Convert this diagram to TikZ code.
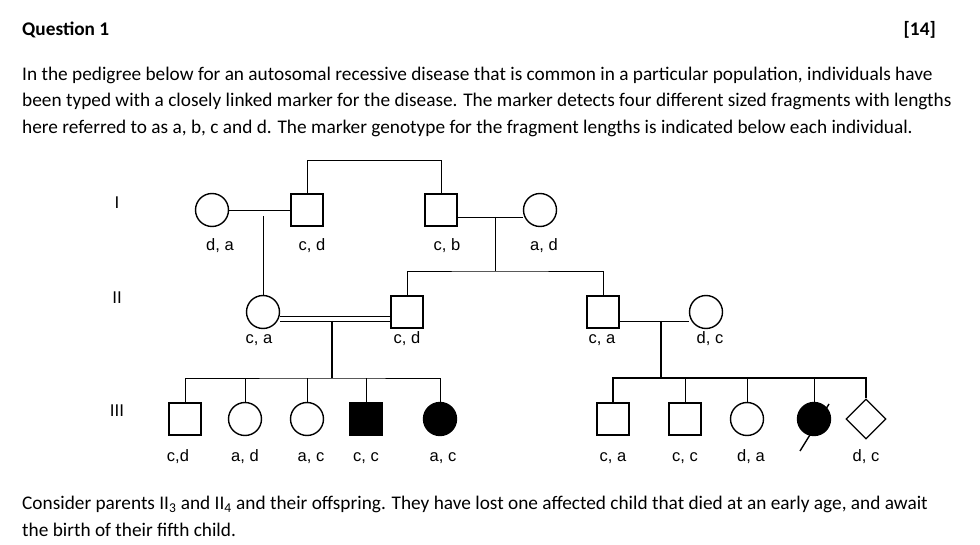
\documentclass[tikz,border=0pt]{standalone}
\usepackage{fontspec}
\setmainfont{Carlito}
\newfontfamily\lab{Liberation Sans}
\usetikzlibrary{shapes.geometric}
\begin{document}
\begin{tikzpicture}[x=1pt,y=-1pt,
  txt/.style={anchor=base west,inner sep=0,font=\fontsize{19.3}{22}\selectfont},
  lbl/.style={anchor=base,inner sep=0,font=\lab\fontsize{16.5}{18}\selectfont},
  rom/.style={inner sep=0,font=\lab\fontsize{17}{18}\selectfont},
  male/.style={draw,line width=1.4pt,minimum size=32pt,inner sep=0},
  fem/.style={draw,circle,line width=1.4pt,minimum size=33pt,inner sep=0},
  unk/.style={draw,diamond,line width=1.2pt,minimum size=40pt,inner sep=0},
  aff/.style={fill=black},
  ln/.style={line width=0.8pt},
  thick/.style={line width=1.6pt}]
\useasboundingbox (0,0) rectangle (980,545);
\fill[white] (0,0) rectangle (980,545);
\node[txt,font=\bfseries\fontsize{19.3}{22}\selectfont] (q) at (22,36) {Question 1};
\node[inner sep=0,anchor=base east,font=\bfseries\fontsize{19.3}{22}\selectfont] (m) at (936,36) {[14]};
\node[txt] (p1) at (22,81) {In the pedigree below for an autosomal recessive disease that is common in a particular population, individuals have};
\node[txt] (p2) at (22,107) {been typed with a closely linked marker for the disease. The marker detects four different sized fragments with lengths};
\node[txt] (p3) at (22,134) {here referred to as a, b, c and d. The marker genotype for the fragment lengths is indicated below each individual.};
\node[txt] (p4) at (22,509) {Consider parents II\textsubscript{3} and II\textsubscript{4} and their offspring. They have lost one affected child that died at an early age, and await};
\node[txt] (p5) at (22,536) {the birth of their fifth child.};
\node[rom] (r1) at (117,203) {I};
\node[rom] (r2) at (117,298) {II};
\node[rom] (r3) at (117,411) {III};
% gen I
\node[fem] (a1) at (212,210) {};
\node[male] (a2) at (307,210) {};
\node[male] (a3) at (441,210) {};
\node[fem] (a4) at (540,210) {};
\node[lbl] (la1) at (220,251) {d, a};
\node[lbl] (la2) at (312,251) {c, d};
\node[lbl] (la3) at (447,251) {c, b};
\node[lbl] (la4) at (544,251) {a, d};
% gen II
\node[fem] (b1) at (263,312) {};
\node[male] (b2) at (407,312) {};
\node[male] (b3) at (603,312) {};
\node[fem] (b4) at (706,312) {};
\node[lbl] (lb1) at (259,344) {c, a};
\node[lbl] (lb2) at (407,344) {c, d};
\node[lbl] (lb3) at (602,344) {c, a};
\node[lbl] (lb4) at (710,344) {d, c};
% gen III
\node[male] (c1) at (185,419) {};
\node[fem] (c2) at (245,419) {};
\node[fem] (c3) at (307,419) {};
\node[male,aff] (c4) at (366,419) {};
\node[fem,aff] (c5) at (440,419) {};
\node[male] (d1) at (613,419) {};
\node[male] (d2) at (685,419) {};
\node[fem] (d3) at (747,419) {};
\node[fem,aff] (d4) at (814,419) {};
\node[unk] (d5) at (866,419) {};
\node[lbl] (lc1) at (178,461) {c,d};
\node[lbl] (lc2) at (245,461) {a, d};
\node[lbl] (lc3) at (311,461) {a, c};
\node[lbl] (lc4) at (366,461) {c, c};
\node[lbl] (lc5) at (443,461) {a, c};
\node[lbl] (ld1) at (613,461) {c, a};
\node[lbl] (ld2) at (685,461) {c, c};
\node[lbl] (ld3) at (751,461) {d, a};
\node[lbl] (ld5) at (866,461) {d, c};
\coordinate (s1) at (800,451); \coordinate (s2) at (829,404);
\draw[line width=1.4pt] (s1) -- (s2);
% connectors
\draw[ln] (a2.north) |- (307,160) -| (a3.north);
\draw[ln] (a1.east) -- (a2.west);
\draw[ln] (b1.north|-0,216) -- (b1.north);
\draw[ln] (a3.east|-0,217) -- (a4.west|-0,217);
\draw[ln] (495,217) -- (495,271);
\draw[ln] (b2.north) |- (495,271) -| (b3.north);
\draw[ln] (b1.east|-0,316) -- (b2.west|-0,316);
\draw[ln] (b1.east|-0,321) -- (b2.west|-0,321);
\draw[thick] (332,321) -- (332,378);
\draw[ln] (c1.north) |- (332,378) -| (c5.north);
\foreach \n in {c2,c3,c4} \draw[ln] (\n.north) -- (\n.north|-0,378);
\draw[ln] (b3.east|-0,321) -- (b4.west|-0,321);
\draw[thick] (661,321) -- (661,378);
\draw[thick] (d1.north) |- (661,378) -| (d5.north);
\foreach \n in {d2,d3,d4} \draw[ln] (\n.north) -- (\n.north|-0,378);
\end{tikzpicture}
\end{document}
